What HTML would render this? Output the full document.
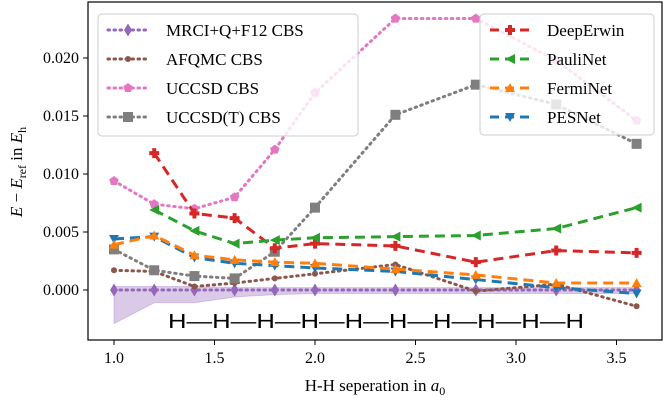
<!DOCTYPE html>
<html><head><meta charset="utf-8"><style>
html,body{margin:0;padding:0;background:#fff;}
svg{display:block;font-family:"Liberation Serif","DejaVu Serif",serif;}
</style></head><body>
<svg id="chart" width="667" height="401" viewBox="0 0 667 401" xmlns="http://www.w3.org/2000/svg"></svg>
<script>
const xs = [1.0, 1.2, 1.4, 1.6, 1.8, 2.0, 2.4, 2.8, 3.2, 3.6];
const mrci = [0,0,0,0,0,0,0,0,0,0];
const mrciUpper = [0.0003,0.0003,0.0003,0.0002,0.0002,0.0002,0.0002,0.0002,0.0002,0.0002];
const mrciLower = [-0.0029,-0.0011,-0.0011,-0.0006,-0.0004,-0.0003,-0.0003,-0.0003,-0.0003,-0.0003];
const afqmc = [0.0017,0.0016,0.0003,0.0006,0.0010,0.0014,0.0022,-0.0001,0.0005,-0.0014];
const uccsd = [0.0094,0.0074,0.0070,0.0080,0.0121,0.0170,0.0234,0.0234,0.0198,0.0146];
const uccsdT = [0.0035,0.0017,0.0012,0.0010,0.0033,0.0071,0.0151,0.0177,0.0160,0.0126];
const xsNN = [1.2, 1.4, 1.6, 1.8, 2.0, 2.4, 2.8, 3.2, 3.6];
const deepErwin = [0.0118,0.0066,0.0062,0.0036,0.0040,0.0038,0.0024,0.0034,0.0032];
const pauliNet = [0.0069,0.0051,0.0040,0.0043,0.0045,0.0046,0.0047,0.0053,0.0071];
const fermiNet = [0.0039,0.0047,0.0030,0.0026,0.0024,0.0023,0.0018,0.0013,0.0006,0.0006];
const pesNet = [0.0044,0.0046,0.0028,0.0023,0.0021,0.0019,0.0016,0.0009,0.0002,-0.0003];
const xTicks = [1.0,1.5,2.0,2.5,3.0,3.5];
const xTickLabels = ["1.0","1.5","2.0","2.5","3.0","3.5"];
const yTicks = [0,0.005,0.010,0.015,0.020];
const yTickLabels = ["0.000","0.005","0.010","0.015","0.020"];

const svg = document.getElementById('chart');
const NS = 'http://www.w3.org/2000/svg';
const L=88, R=662, T=2, B=340;
function X(v){return 114 + (v-1.0)*201;}
function Y(v){return 290 - v*11600;}
function mk(tag, attrs, parent){const e=document.createElementNS(NS,tag);for(const k in attrs)e.setAttribute(k,attrs[k]);(parent||svg).appendChild(e);return e;}

const clip = mk('clipPath',{id:'pc'}); mk('rect',{x:L,y:T,width:R-L,height:B-T},clip);
const plot = mk('g',{'clip-path':'url(#pc)'});



let pts = xs.map((x,i)=>X(x)+','+Y(mrciUpper[i]));
pts = pts.concat(xs.map((x,i)=>X(x)+','+Y(mrciLower[i])).reverse());
const band = mk('polygon',{points:pts.join(' '),fill:'#9467bd','fill-opacity':0.35,stroke:'#9467bd','stroke-opacity':0.3},plot);



const hc = mk('text',{x:168,y:328,'font-size':20,textLength:416,lengthAdjust:'spacingAndGlyphs',fill:'#000','font-family':'"Liberation Sans",sans-serif'},plot);
hc.textContent='H—H—H—H—H—H—H—H—H—H';



function marker(g,type,cx,cy,color,s){
  s=s||5;
  if(type==='diamond') return mk('polygon',{points:`${cx},${cy-s*1.3} ${cx+s*0.8},${cy} ${cx},${cy+s*1.3} ${cx-s*0.8},${cy}`,fill:color},g);
  if(type==='dot') return mk('circle',{cx,cy,r:s*0.6,fill:color},g);
  if(type==='pent'){let p=[];for(let k=0;k<5;k++){const a=-Math.PI/2+k*2*Math.PI/5;p.push((cx+s*Math.cos(a))+','+(cy+s*Math.sin(a)));}return mk('polygon',{points:p.join(' '),fill:color},g);}
  if(type==='square') return mk('rect',{x:cx-s,y:cy-s,width:2*s,height:2*s,fill:color},g);
  if(type==='plus') return mk('path',{d:`M${cx-s},${cy-2}h${s-2}v-${s-2}h4v${s-2}h${s-2}v4h-${s-2}v${s-2}h-4v-${s-2}h-${s-2}z`,fill:color},g);
  if(type==='left') return mk('polygon',{points:`${cx-s},${cy} ${cx+s},${cy-s} ${cx+s},${cy+s}`,fill:color},g);
  if(type==='up') return mk('polygon',{points:`${cx},${cy-s} ${cx+s},${cy+s*0.8} ${cx-s},${cy+s*0.8}`,fill:color},g);
  if(type==='down') return mk('polygon',{points:`${cx},${cy+s} ${cx+s},${cy-s*0.8} ${cx-s},${cy-s*0.8}`,fill:color},g);
}
const dotted='1.5,4.5', dashed='10,6';
function series(name,xv,yv,color,dash,mt,parent){
  const g=mk('g',{},parent);
  
  
  mk('polyline',{points:xv.map((x,i)=>X(x)+','+Y(yv[i])).join(' '),fill:'none',stroke:color,'stroke-width':3,'stroke-dasharray':dash,'stroke-linecap':dash===dotted?'round':'butt'},g);
  xv.forEach((x,i)=>marker(g,mt,X(x),Y(yv[i]),color));
}
series('mrci-series',xs,mrci,'#9467bd',dotted,'diamond',plot);
series('afqmc-series',xs,afqmc,'#8c564b',dotted,'dot',plot);
series('uccsd-series',xs,uccsd,'#e377c2',dotted,'pent',plot);
series('uccsdt-series',xs,uccsdT,'#7f7f7f',dotted,'square',plot);
series('deeperwin-series',xsNN,deepErwin,'#d62728',dashed,'plus',plot);
series('paulinet-series',xsNN,pauliNet,'#2ca02c',dashed,'left',plot);
series('pesnet-series',xs,pesNet,'#1f77b4',dashed,'down',plot);
series('ferminet-series',xs,fermiNet,'#ff7f0e',dashed,'up',plot);

const frame=mk('rect',{x:L,y:T,width:R-L,height:B-T,fill:'none',stroke:'#000','stroke-width':1.2});


xTicks.forEach((v,i)=>{
  const t=mk('line',{x1:X(v),x2:X(v),y1:B,y2:B+5,stroke:'#000','stroke-width':1});
  
  
  const l=mk('text',{x:X(v),y:B+23,'font-size':16,'text-anchor':'middle'});l.textContent=xTickLabels[i];
  
  
});
yTicks.forEach((v,i)=>{
  const t=mk('line',{x1:L-5,x2:L,y1:Y(v),y2:Y(v),stroke:'#000','stroke-width':1});
  
  
  const l=mk('text',{x:L-9,y:Y(v)+5,'font-size':16,'text-anchor':'end'});l.textContent=yTickLabels[i];
  
  
});
const xl=mk('text',{x:375,y:391,'font-size':17,'text-anchor':'middle'});
xl.innerHTML='H-H seperation in <tspan font-style="italic">a</tspan><tspan font-size="12" dy="4">0</tspan>';


const yl=mk('text',{x:0,y:0,'font-size':17,'text-anchor':'middle',transform:'translate(22,172) rotate(-90)'});
yl.innerHTML='<tspan font-style="italic">E</tspan> − <tspan font-style="italic">E</tspan><tspan font-size="12" dy="4">ref</tspan><tspan dy="-4"> in </tspan><tspan font-style="italic">E</tspan><tspan font-size="12" dy="4">h</tspan>';



function legend(name,x,y,w,h,items,tx){
  const g=mk('g',{});
  
  
  mk('rect',{x,y,width:w,height:h,rx:4,fill:'#fff','fill-opacity':0.8,stroke:'#ccc','stroke-width':1},g);
  items.forEach((it,i)=>{
    const cy=y+16+i*29;
    const e=mk('g',{},g);
    
    
    mk('line',{x1:x+10,x2:x+50,y1:cy,y2:cy,stroke:it[1],'stroke-width':3,'stroke-dasharray':it[2]==='d'?'9,6':'1.5,4.5','stroke-linecap':it[2]==='d'?'butt':'round'},e);
    marker(e,it[3],x+30,cy,it[1]);
    const t=mk('text',{x:x+tx,y:cy+6,'font-size':17},e);t.textContent=it[0];
  });
}
legend('legend-reference-methods',98,14,260,122,[['MRCI+Q+F12 CBS','#9467bd','o','diamond'],['AFQMC CBS','#8c564b','o','dot'],['UCCSD CBS','#e377c2','o','pent'],['UCCSD(T) CBS','#7f7f7f','o','square']],68);
legend('legend-neural-methods',480,14,174,121,[['DeepErwin','#d62728','d','plus'],['PauliNet','#2ca02c','d','left'],['FermiNet','#ff7f0e','d','up'],['PESNet','#1f77b4','d','down']],67);
</script>
</body></html>
